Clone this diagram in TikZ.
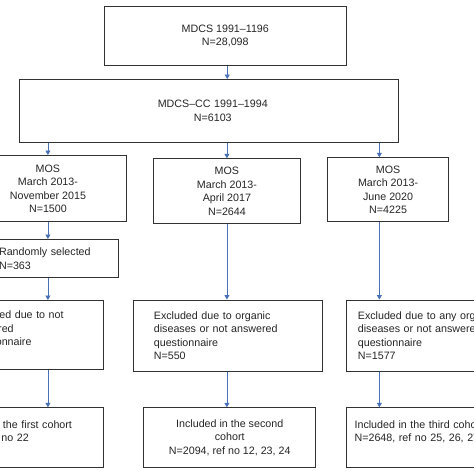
\documentclass[tikz,border=0pt]{standalone}
\usepackage{fontspec}
\setmainfont{Liberation Sans}
\usetikzlibrary{arrows.meta,calc}
\definecolor{arrblue}{RGB}{72,112,182}
\definecolor{boxline}{RGB}{50,50,50}
\begin{document}
\begin{tikzpicture}[x=1pt,y=-1pt,
  box/.style={draw=boxline, line width=1.15pt, anchor=north west, inner ysep=2pt,
    font=\fontsize{10.7}{13.5}\selectfont, text=black!85},
  arr/.style={draw=arrblue, line width=0.8pt, -{Triangle[width=5pt,length=4.5pt]}}]
\path[use as bounding box] (0,0) rectangle (474,474);
\clip (0,0) rectangle (474,474);
\fill[white] (0,0) rectangle (474,474);
% row 1 and 2
\node[box, minimum width=242pt, minimum height=59.3pt, align=center] (top) at (103.7,5.7)
  {MDCS 1991–1196\\N=28,098};
\node[box, minimum width=379pt, minimum height=62.7pt, text width=371pt, inner xsep=4pt, align=center] (cc) at (18.7,79)
  {\hspace*{8pt}MDCS–CC 1991–1994\\\hspace*{8pt}N=6103};
% row 3
\node[box, minimum width=156.7pt, minimum height=66pt, align=center] (mos1) at (-31,155)
  {MOS\\March 2013-\\November 2015\\N=1500};
\node[box, minimum width=147.3pt, minimum height=64.4pt, align=center] (mos2) at (152.7,158.3)
  {MOS\\March 2013-\\April 2017\\N=2644};
\node[box, minimum width=120.4pt, minimum height=63.7pt, align=center] (mos3) at (327.3,157.3)
  {MOS\\March 2013-\\June 2020\\N=4225};
% row 4
\node[box, minimum height=37.7pt, text width=106.3pt, inner xsep=13.5pt, align=left] (rand) at (-15,239)
  {Randomly selected\\N=363};
% row 5
\node[box, minimum height=69pt, text width=124.9pt, inner xsep=11.7pt, align=left] (excl1) at (-45,300)
  {Excluded due to not\\answered\\questionnaire\\\mbox{}};
\node[box, minimum height=71.2pt, text width=149pt, inner xsep=20pt, align=left] (excl2) at (133.3,299.5)
  {Excluded due to organic\\diseases or not answered\\questionnaire\\N=550};
\node[box, minimum height=71.2pt, text width=176.8pt, inner xsep=11.6pt, align=left] (excl3) at (345.7,299.5)
  {Excluded due to any organic\\diseases or not answered\\questionnaire\\N=1577};
% row 6
\node[box, minimum height=60pt, text width=150.3pt, inner xsep=6.5pt, align=left] (inc1) at (-60,407.3)
  {Included in the first cohort\\N=\phantom{000}, ref no 22\\\mbox{}};
\node[box, minimum width=171.7pt, minimum height=59.4pt, align=center] (inc2) at (143.3,407.3)
  {Included in the second\\cohort\\N=2094, ref no 12, 23, 24};
\node[box, minimum height=59.7pt, text width=183.4pt, inner xsep=8.3pt, align=left] (inc3) at (345.7,407.3)
  {Included in the third cohort\\N=2648, ref no 25, 26, 27\\\mbox{}};
% connectors
\coordinate (c0) at ($(top.south)+(2,0)$);
\coordinate (c3) at ($(mos3.north)+(-8.7,0)$);
\draw[arr] (c0) -- (c0 |- cc.north);
\draw[arr] (mos1.north |- cc.south) -- (mos1.north);
\draw[arr] (mos2.north |- cc.south) -- (mos2.north);
\draw[arr] (c3 |- cc.south) -- (c3);
\draw[arr] (mos1.south) -- (mos1.south |- rand.north);
\draw[arr] (rand.south -| mos1.south) -- (excl1.north -| mos1.south);
\draw[arr] (excl1.south -| mos1.south) -- (inc1.north -| mos1.south);
\draw[arr] (mos2.south) -- (mos2.south |- excl2.north);
\draw[arr] (excl2.south -| mos2.south) -- (inc2.north -| mos2.south);
\draw[arr] (c3 |- mos3.south) -- (c3 |- excl3.north);
\draw[arr] (c3 |- excl3.south) -- (c3 |- inc3.north);
\end{tikzpicture}
\end{document}
